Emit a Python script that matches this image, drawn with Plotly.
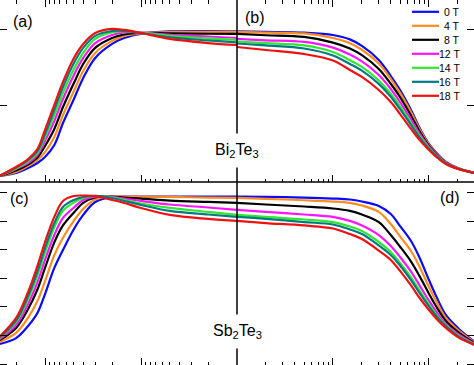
import plotly.graph_objects as go

# ---------------- data ----------------
X_RIGHT = [1, 2, 5, 10, 15, 20, 30, 40, 50, 65, 80, 100, 120, 150, 200, 300]
X_LEFT = [300, 200, 150, 120, 100, 80, 65, 50, 40, 30, 20, 15, 10, 5, 2, 1]

FIELDS = ["0 T", "4 T", "8 T", "12 T", "14 T", "16 T", "18 T"]
COLORS = ["#0a0aff", "#ff8c1e", "#000000", "#ff14ff", "#32e632", "#007c80", "#f01010"]

# panel (a): Bi2Te3, left side (x along X_LEFT)
A_0T = [0.039, 0.059, 0.092, 0.125, 0.164, 0.243, 0.388, 0.546, 0.684, 0.816, 0.908, 0.947, 0.974, 0.990, 0.992, 0.990]
A_4T = [0.039, 0.066, 0.105, 0.145, 0.197, 0.296, 0.441, 0.599, 0.730, 0.849, 0.928, 0.961, 0.977, 0.986, 0.987, 0.987]
A_8T = [0.039, 0.076, 0.115, 0.161, 0.237, 0.349, 0.493, 0.651, 0.776, 0.882, 0.947, 0.970, 0.980, 0.978, 0.975, 0.974]
A_12T = [0.039, 0.086, 0.125, 0.178, 0.270, 0.401, 0.546, 0.704, 0.816, 0.914, 0.967, 0.984, 0.984, 0.967, 0.957, 0.947]
A_14T = [0.039, 0.089, 0.135, 0.191, 0.296, 0.441, 0.586, 0.743, 0.849, 0.941, 0.984, 0.990, 0.982, 0.961, 0.944, 0.934]
A_16T = [0.039, 0.095, 0.145, 0.204, 0.316, 0.474, 0.625, 0.783, 0.882, 0.961, 0.993, 0.993, 0.980, 0.951, 0.931, 0.918]
A_18T = [0.039, 0.099, 0.151, 0.217, 0.342, 0.507, 0.658, 0.816, 0.908, 0.980, 1.007, 1.000, 0.980, 0.941, 0.914, 0.901]

# panel (b): Bi2Te3, right side (x along X_RIGHT)
B_0T = [0.990, 0.987, 0.982, 0.967, 0.938, 0.895, 0.803, 0.697, 0.605, 0.474, 0.355, 0.250, 0.191, 0.132, 0.092, 0.059]
B_4T = [0.987, 0.982, 0.977, 0.947, 0.913, 0.870, 0.779, 0.678, 0.586, 0.459, 0.346, 0.245, 0.188, 0.130, 0.091, 0.059]
B_8T = [0.974, 0.965, 0.954, 0.917, 0.878, 0.834, 0.743, 0.646, 0.558, 0.436, 0.332, 0.238, 0.183, 0.128, 0.089, 0.059]
B_12T = [0.941, 0.932, 0.921, 0.884, 0.838, 0.793, 0.704, 0.612, 0.526, 0.411, 0.316, 0.230, 0.178, 0.125, 0.089, 0.059]
B_14T = [0.924, 0.914, 0.898, 0.855, 0.801, 0.757, 0.668, 0.581, 0.498, 0.388, 0.301, 0.224, 0.173, 0.122, 0.088, 0.059]
B_16T = [0.911, 0.898, 0.878, 0.832, 0.776, 0.732, 0.645, 0.561, 0.479, 0.375, 0.292, 0.218, 0.170, 0.121, 0.087, 0.059]
B_18T = [0.888, 0.868, 0.842, 0.799, 0.737, 0.691, 0.605, 0.526, 0.447, 0.349, 0.276, 0.211, 0.164, 0.118, 0.086, 0.059]

# panel (c): Sb2Te3, left side (x along X_LEFT)
C_0T = [0.140, 0.182, 0.267, 0.358, 0.491, 0.674, 0.800, 0.947, 1.046, 1.137, 1.172, 1.175, 1.175, 1.175, 1.174, 1.174]
C_4T = [0.153, 0.218, 0.326, 0.441, 0.582, 0.764, 0.886, 1.006, 1.088, 1.154, 1.175, 1.175, 1.174, 1.172, 1.168, 1.165]
C_8T = [0.165, 0.253, 0.386, 0.523, 0.674, 0.853, 0.972, 1.063, 1.130, 1.168, 1.175, 1.168, 1.161, 1.147, 1.137, 1.130]
C_12T = [0.172, 0.274, 0.421, 0.572, 0.730, 0.905, 1.025, 1.098, 1.151, 1.175, 1.172, 1.161, 1.144, 1.119, 1.098, 1.081]
C_14T = [0.180, 0.295, 0.458, 0.622, 0.783, 0.960, 1.075, 1.133, 1.165, 1.179, 1.168, 1.151, 1.126, 1.095, 1.067, 1.046]
C_16T = [0.184, 0.306, 0.477, 0.648, 0.814, 0.989, 1.102, 1.151, 1.172, 1.179, 1.165, 1.144, 1.116, 1.074, 1.049, 1.032]
C_18T = [0.189, 0.323, 0.505, 0.688, 0.856, 1.032, 1.144, 1.179, 1.182, 1.179, 1.151, 1.130, 1.095, 1.046, 1.018, 1.004]

# panel (d): Sb2Te3, right side (x along X_RIGHT)
D_0T = [1.174, 1.173, 1.168, 1.161, 1.154, 1.140, 1.109, 1.053, 0.968, 0.863, 0.744, 0.589, 0.470, 0.344, 0.253, 0.154]
D_4T = [1.165, 1.159, 1.149, 1.140, 1.130, 1.112, 1.067, 0.982, 0.895, 0.793, 0.681, 0.540, 0.435, 0.323, 0.239, 0.149]
D_8T = [1.130, 1.119, 1.105, 1.091, 1.074, 1.049, 0.996, 0.905, 0.823, 0.719, 0.615, 0.493, 0.400, 0.302, 0.225, 0.145]
D_12T = [1.081, 1.067, 1.049, 1.032, 1.004, 0.972, 0.905, 0.828, 0.751, 0.648, 0.550, 0.444, 0.365, 0.281, 0.211, 0.140]
D_14T = [1.046, 1.032, 1.014, 0.996, 0.965, 0.933, 0.856, 0.786, 0.709, 0.607, 0.514, 0.417, 0.344, 0.269, 0.201, 0.137]
D_16T = [1.032, 1.018, 0.996, 0.979, 0.944, 0.912, 0.832, 0.765, 0.691, 0.589, 0.497, 0.404, 0.334, 0.264, 0.196, 0.135]
D_18T = [1.004, 0.989, 0.972, 0.951, 0.912, 0.877, 0.796, 0.730, 0.653, 0.551, 0.463, 0.379, 0.316, 0.253, 0.189, 0.133]

PANEL_A = [A_0T, A_4T, A_8T, A_12T, A_14T, A_16T, A_18T]
PANEL_B = [B_0T, B_4T, B_8T, B_12T, B_14T, B_16T, B_18T]
PANEL_C = [C_0T, C_4T, C_8T, C_12T, C_14T, C_16T, C_18T]
PANEL_D = [D_0T, D_4T, D_8T, D_12T, D_14T, D_16T, D_18T]

MAJOR_X = [10, 100]
MINOR_X = [2, 3, 4, 5, 6, 7, 8, 9, 20, 30, 40, 50, 60, 70, 80, 90, 200, 300]
TOP_Y_TICKS = [0.5, 1.0]
BOT_Y_TICKS = [0, 0.2, 0.4, 0.6, 0.8, 1.0, 1.2]

# ---------------- figure ----------------
W, H = 474, 365
FONT = "Liberation Sans, Arial, sans-serif"
SPLIT = 1 - 182 / H  # paper y of the horizontal divider

fig = go.Figure()

panels = [
    (PANEL_A, X_LEFT, "x", "y"),
    (PANEL_B, X_RIGHT, "x2", "y2"),
    (PANEL_C, X_LEFT, "x3", "y3"),
    (PANEL_D, X_RIGHT, "x4", "y4"),
]
for data, xs, xa, ya in panels:
    for name, color, ys in zip(FIELDS, COLORS, data):
        fig.add_trace(go.Scatter(
            x=xs, y=ys, mode="lines", name=name, showlegend=False,
            line=dict(color=color, width=2.2, shape="spline", smoothing=1.0),
            xaxis=xa, yaxis=ya, hoverinfo="skip"))

LOGMAX = 2.469

def xax(domain, rng, anchor, mirror):
    return dict(domain=domain, type="log", range=rng, anchor=anchor,
                showline=False, showgrid=False, zeroline=False,
                showticklabels=False, ticks="inside", ticklen=7, tickwidth=1,
                tickcolor="black", tickmode="array", tickvals=MAJOR_X,
                mirror=mirror,
                minor=dict(ticks="inside", ticklen=3.5, tickwidth=1,
                           tickcolor="black", tickmode="array", tickvals=MINOR_X))

def yax(domain, rng, anchor, side, tickvals):
    return dict(domain=domain, range=rng, anchor=anchor, side=side,
                showline=False, showgrid=False, zeroline=False,
                showticklabels=False, ticks="inside", ticklen=7, tickwidth=1,
                tickcolor="black", tickmode="array", tickvals=tickvals)

fig.update_layout(
    width=W, height=H,
    margin=dict(l=0, r=0, t=0, b=0),
    paper_bgcolor="white", plot_bgcolor="white",
    showlegend=False,
    font=dict(family=FONT, color="black"),
    xaxis=xax([0, 0.5], [LOGMAX, 0], "y", "ticks"),
    xaxis2=xax([0.5, 1], [0, LOGMAX], "y2", "ticks"),
    xaxis3=xax([0, 0.5], [LOGMAX, 0], "y3", False),
    xaxis4=xax([0.5, 1], [0, LOGMAX], "y4", False),
    yaxis=yax([SPLIT, 1], [0, 1.197], "x", "left", TOP_Y_TICKS),
    yaxis2=yax([SPLIT, 1], [0, 1.197], "x2", "right", TOP_Y_TICKS),
    yaxis3=yax([0, SPLIT], [-0.007, 1.277], "x3", "left", BOT_Y_TICKS),
    yaxis4=yax([0, SPLIT], [-0.007, 1.277], "x4", "right", BOT_Y_TICKS),
)

# divider lines
fig.add_shape(type="line", xref="paper", yref="paper", x0=0.5, x1=0.5, y0=0, y1=1,
              line=dict(color="black", width=1.5), layer="above")
fig.add_shape(type="line", xref="paper", yref="paper", x0=0, x1=1, y0=SPLIT, y1=SPLIT,
              line=dict(color="black", width=1.5), layer="above")

# legend (drawn manually)
for i, (name, color) in enumerate(zip(FIELDS, COLORS)):
    py = 11.8 + 14 * i
    yp = 1 - py / H
    fig.add_shape(type="line", xref="paper", yref="paper",
                  x0=412 / W, x1=439 / W, y0=yp, y1=yp,
                  line=dict(color=color, width=2.2), layer="above")
    fig.add_annotation(x=462 / W, y=yp, xref="paper", yref="paper", text=name,
                       showarrow=False, xanchor="right", yanchor="middle",
                       font=dict(size=10.5, family=FONT, color="black"))

# panel labels
for txt, px, py in [("(a)", 23, 22), ("(b)", 255, 17), ("(c)", 19, 198), ("(d)", 450, 197)]:
    fig.add_annotation(x=px / W, y=1 - py / H, xref="paper", yref="paper", text=txt,
                       showarrow=False, xanchor="center", yanchor="middle",
                       font=dict(size=16, family=FONT, color="black"))

# material labels (white box interrupts the centre line)
for txt, py in [("Bi<sub>2</sub>Te<sub>3</sub>", 150), ("Sb<sub>2</sub>Te<sub>3</sub>", 331)]:
    fig.add_annotation(x=0.5, y=1 - py / H, xref="paper", yref="paper", text=txt,
                       showarrow=False, xanchor="center", yanchor="middle",
                       bgcolor="white", borderpad=7,
                       font=dict(size=16, family=FONT, color="black"))

fig.write_html("out.html",
               config={"displayModeBar": False},
               post_script="document.body.style.margin='0';document.body.style.overflow='hidden';")
